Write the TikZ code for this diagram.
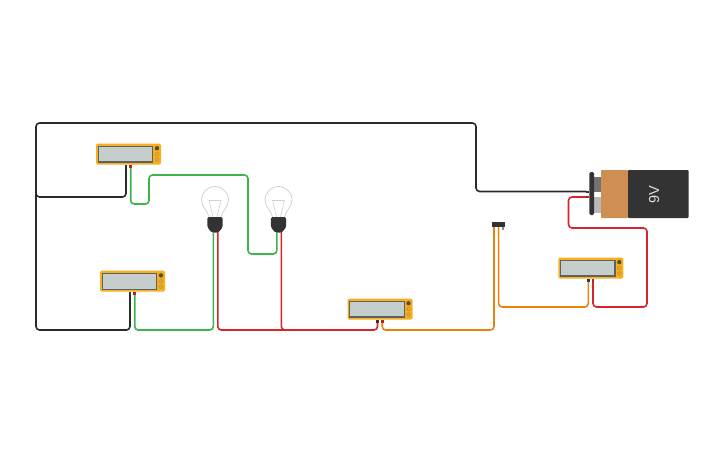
\documentclass[tikz,border=0pt]{standalone}
\usepackage{fontspec}
\setmainfont{Liberation Sans}
\definecolor{wblack}{HTML}{2A2A2A}
\definecolor{wgreen}{HTML}{3DB54A}
\definecolor{wred}{HTML}{D8232A}
\definecolor{worange}{HTML}{E8820C}
\definecolor{mbody}{HTML}{F5B01F}
\definecolor{mknob}{HTML}{D49A2C}
\definecolor{mscreen}{HTML}{C5CDCD}
\definecolor{dark}{HTML}{333333}
\definecolor{copper}{HTML}{D08F52}
\tikzset{
  x=1pt,y=-1pt,
  wire/.style={line width=1.6pt,rounded corners=3.5pt,line join=round},
  wk/.style={wire,draw=wblack},
  wg/.style={wire,draw=wgreen},
  wr/.style={wire,draw=wred},
  wo/.style={wire,draw=worange},
  term/.style={inner sep=0pt,minimum width=2.8pt,minimum height=3pt,fill=#1,draw=none},
  glass/.style={draw=black!18,line width=0.8pt},
  meter/.pic={
    \fill[mbody,rounded corners=1.5pt] (0,0) rectangle (65,21);
    \draw[fill=mscreen,draw=black!62,line width=1.1pt] (2.3,3) rectangle (56.7,18.5);
    \fill[dark!80!mbody] (61,4.7) circle (2.2);
    \fill[mknob] (61,10.5) circle (2.3);
    \fill[mbody] (61,10.5) circle (1);
    \fill[mknob] (61,16) circle (2.3);
    \fill[mbody] (61,16) circle (1);
    \node[term=dark,anchor=north] (-blk) at (30,21) {};
    \node[term=wred!85!black,anchor=north] (-red) at (34.7,21) {};
  },
  bulb/.pic={
    \draw[glass,fill=white] (-6,31) .. controls (-7,25) and (-13.5,21) .. (-13.5,14)
      arc[start angle=180,end angle=0,x radius=13.5,y radius=-13.5]
      .. controls (13.5,21) and (7,25) .. (6,31);
    \draw[glass,line width=0.6pt] (-2,31) -- (-6,14.5) -- (6,14.5) -- (2,31);
    \fill[dark,rounded corners=1.5pt] (-7.7,31) -- (7.7,31) -- (7.7,41) -- (3.5,46.5) -- (-3.5,46.5) -- (-7.7,41) -- cycle;
    \node[inner sep=0pt,minimum size=1pt] (-l) at (-1.7,46) {};
    \node[inner sep=0pt,minimum size=1pt] (-r) at (2.8,46) {};
  }
}
\begin{document}
\begin{tikzpicture}
\useasboundingbox (0,0) rectangle (725,453);
% battery
\fill[copper,rounded corners=0.8pt] (601,170) rectangle (628,218);
\fill[dark,rounded corners=0.8pt] (628,170) rectangle (688.5,218);
\node[rotate=90,text=white!88!black,font=\fontsize{14.5}{14.5}\selectfont,inner sep=0pt] (vlabel) at (654,195) {9V};
\fill[black!55] (594,177) rectangle (601,192);
\fill[black!28] (594,197) rectangle (601,213);
\node[fill=dark,rounded corners=1.5pt,inner sep=0pt,minimum width=4.8pt,minimum height=43pt] (plate) at (591.7,193.5) {};
\node[term=dark,minimum width=3pt,minimum height=2pt,anchor=east] (bneg) at (589.5,191.5) {};
\node[term=wred!85!black,minimum width=3pt,minimum height=2pt,anchor=east] (bpos) at (589.5,197) {};
% meters
\pic (m1) at (96,143.5) {meter};
\pic (m2) at (100,270.7) {meter};
\pic (m3) at (347.5,298.5) {meter};
\pic (m4) at (558.3,257.5) {meter};
% bulbs
\pic (b1) at (215,186) {bulb};
\pic (b2) at (278.5,186) {bulb};
% switch
\fill[black!45] (502.3,226) rectangle (503.6,230);
\node[fill=dark,inner sep=0pt,minimum width=13pt,minimum height=4.8pt] (sw) at (498.5,224.7) {};
\coordinate (s1) at (494,227);
\coordinate (s2) at (498.6,227);
% junctions
\coordinate (jk) at (36,197);
\coordinate (jku) at (36,190);
\coordinate (jr) at (286,330);
% black
\draw[wk] (m1-blk.south) -- (m1-blk.south |- jk) -- (jk) -- (36,123) -- (476,123) -- (476,191.5) -- (bneg.west);
\draw[wk] (jku) -- (36,330) -- (m2-blk.south |- 0,330) -- (m2-blk.south);
% green
\draw[wg] (m1-red.south) -- (m1-red.south |- 0,204) -- (149,204) -- (149,175) -- (248,175) -- (248,254) -- (b2-l.center |- 0,254) -- (b2-l.center);
\draw[wg] (m2-red.south) -- (m2-red.south |- 0,330) -- (b1-l.center |- 0,330) -- (b1-l.center);
% red
\draw[wr] (b1-r.center) -- (b1-r.center |- 0,330) -- (m3-blk.south |- 0,330) -- (m3-blk.south);
\draw[wr] (b2-r.center) -- (b2-r.center |- jr) -- (jr);
\draw[wr] (m4-red.south) -- (m4-red.south |- 0,307) -- (647,307) -- (647,228) -- (568.5,228) -- (568.5,197) -- (bpos.west);
% orange
\draw[wo] (m3-red.south) -- (m3-red.south |- 0,330) -- (s1 |- 0,330) -- (s1);
\draw[wo] (s2) -- (s2 |- 0,307) -- (m4-blk.south |- 0,307) -- (m4-blk.south);
\end{tikzpicture}
\end{document}
